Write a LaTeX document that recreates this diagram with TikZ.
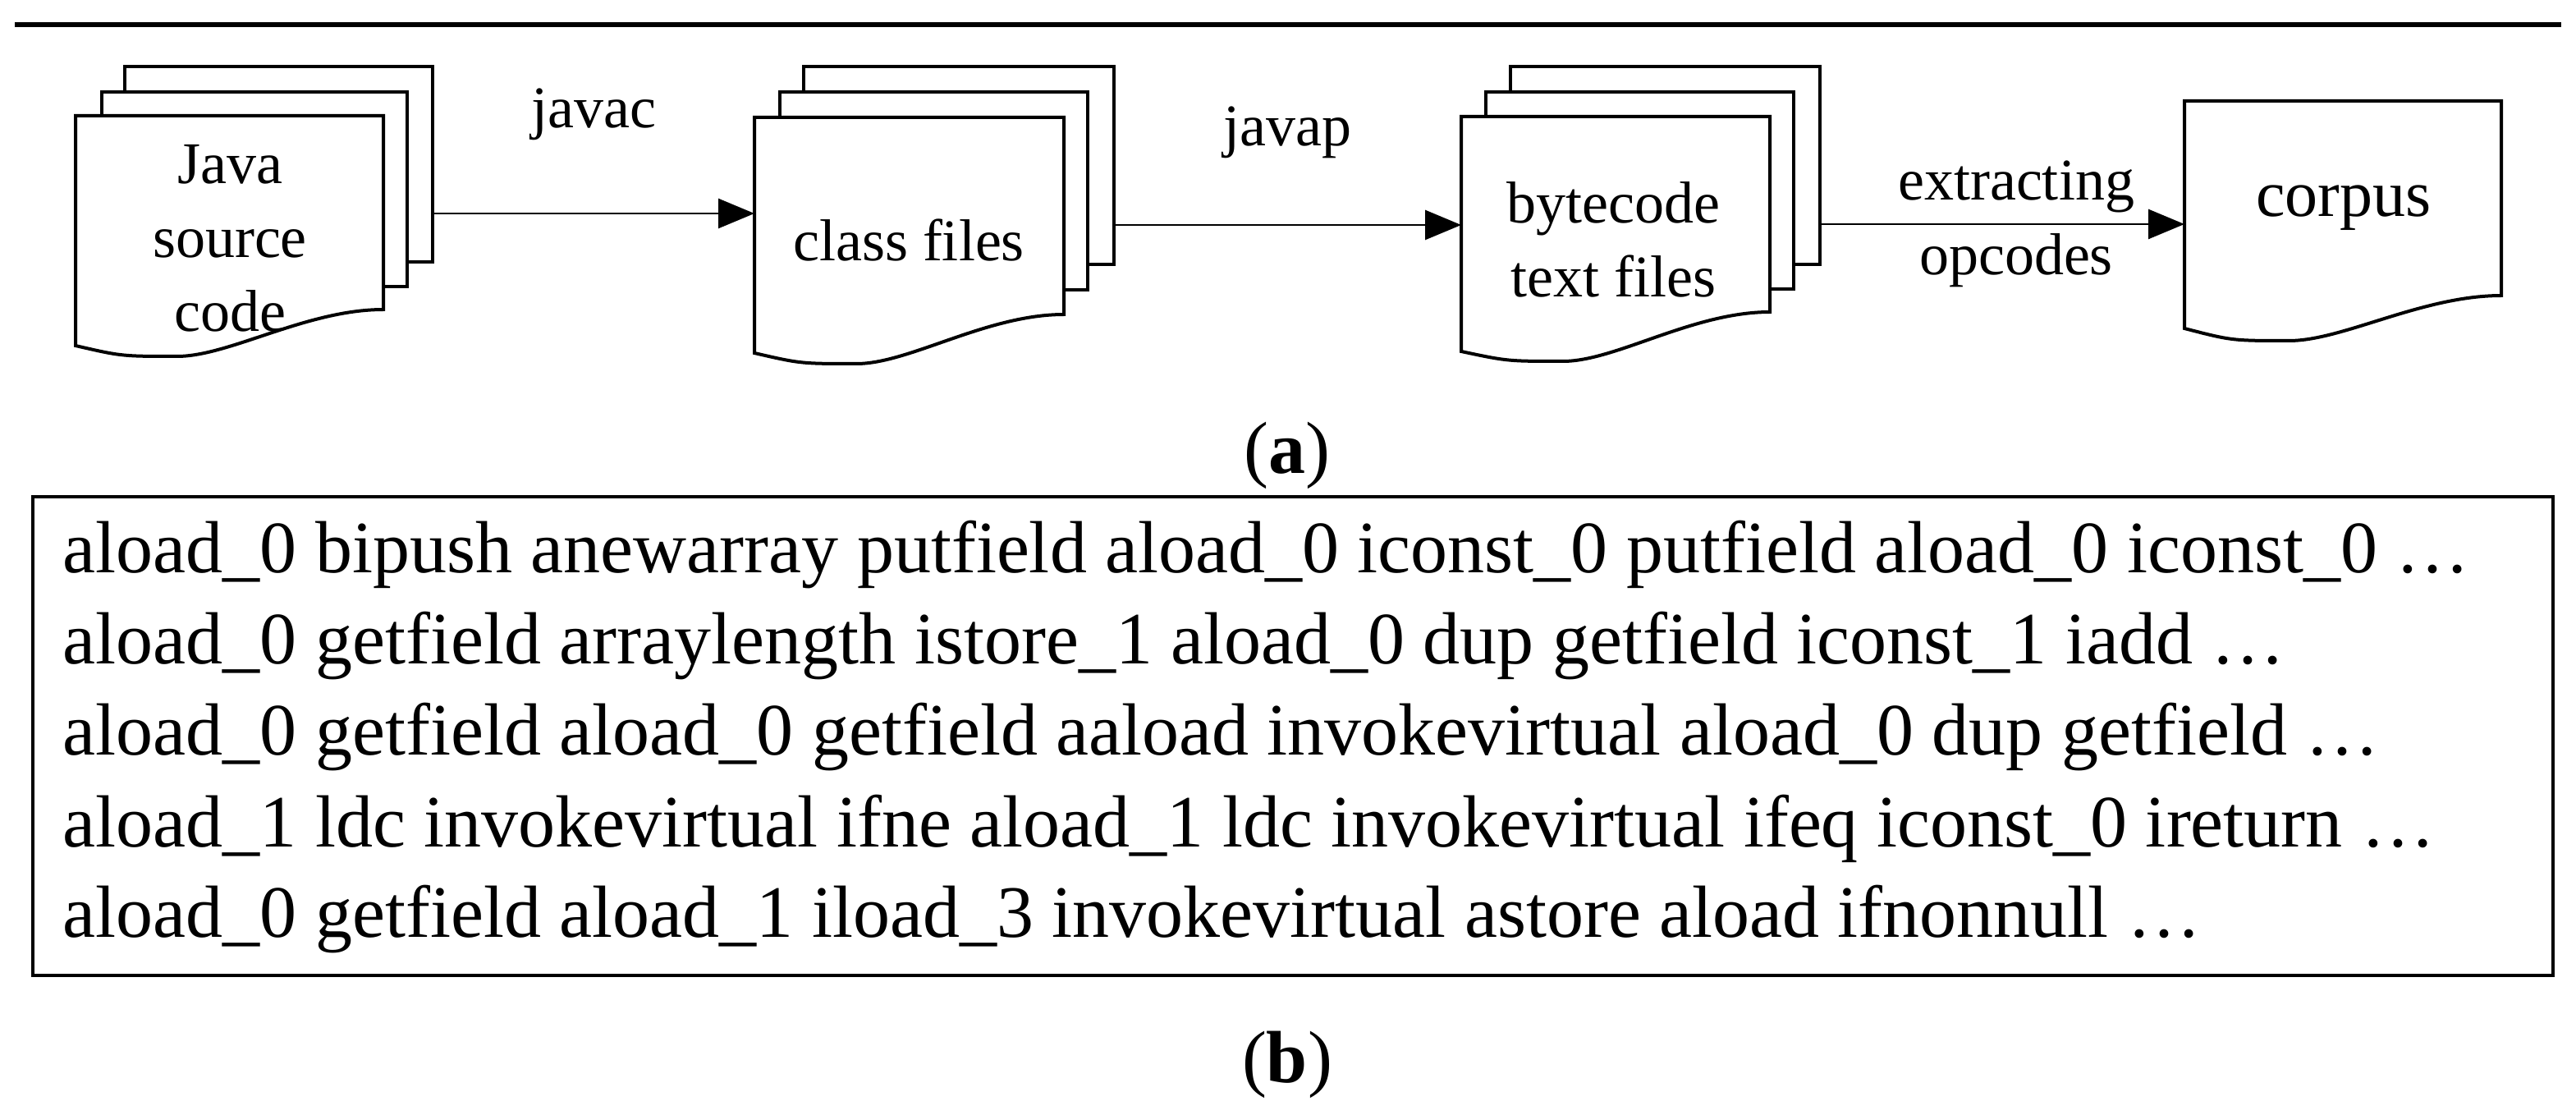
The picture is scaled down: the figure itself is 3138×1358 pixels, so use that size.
\documentclass[tikz,border=0pt]{standalone}
\usepackage{fontspec}
\setmainfont{Liberation Serif}
\usetikzlibrary{arrows.meta}
\newcommand\docpage[6]{% l t r rb lb wb
  \path[draw=black,fill=white,line width=1pt]
  (#1,#2) -- (#3,#2) -- (#3,#4)
  .. controls ({#3-0.25*(#3-#1)},#4) and ({#1+0.5*(#3-#1)},#6) .. ({#1+0.33*(#3-#1)},#6)
  .. controls ({#1+0.15*(#3-#1)},#6) .. (#1,#5) -- cycle;}
\tikzset{
  pagebox/.style={draw=black,fill=white,line width=1pt},
  flow/.style={line width=0.7pt,-{Triangle[length=11pt,width=9pt]}},
  lbl/.style={font=\fontsize{18}{22}\selectfont,inner sep=0pt},
  dtxt/.style={font=\fontsize{18}{22.5}\selectfont,align=center,inner sep=0pt},
  code/.style={font=\fontsize{22.5}{27}\selectfont,anchor=west,inner sep=0pt},
  captxt/.style={font=\fontsize{22.5}{27}\selectfont,inner sep=0pt}
}
\begin{document}
\begin{tikzpicture}[x=0.25pt,y=-0.25pt]
\useasboundingbox (0,0) rectangle (3138,1358);
\draw[line width=1.5pt] (18,30) -- (3120,30);
% Java stack
\draw[pagebox] (152,81) rectangle (527,319);
\draw[pagebox] (124,112) rectangle (496,349);
\docpage{92}{141}{467}{377}{421}{434}
\node[dtxt] (java) at (280,290) {Java\\source\\code};
% class stack
\draw[pagebox] (979,81) rectangle (1357,322);
\draw[pagebox] (950,112) rectangle (1325,353);
\docpage{919}{143}{1296}{383}{430}{443}
\node[dtxt] (class) at (1107,293) {class files};
% bytecode stack
\draw[pagebox] (1840,81) rectangle (2217,322);
\draw[pagebox] (1810,112) rectangle (2185,352);
\docpage{1780}{142}{2156}{380}{428}{440}
\node[dtxt] (byte) at (1965,292) {bytecode\\text files};
% corpus
\docpage{2661}{123}{3047}{360}{400}{415}
\node[dtxt,font=\fontsize{20}{24}\selectfont] (corpus) at (2855,253) {corpus};
% arrows
\coordinate (j1) at (527,260); \coordinate (c1) at (919,260);
\coordinate (j2) at (1357,274); \coordinate (c2) at (1780,274);
\coordinate (j3) at (2217,273); \coordinate (c3) at (2661,273);
\draw[flow] (j1) -- (c1) node[lbl,midway,above=22pt] (javac) {javac};
\draw[flow] (j2) -- (c2) node[lbl,midway,above=20pt] (javap) {javap};
\draw[flow] (j3) -- (c3);
\node[lbl] (ext) at (2456,227) {extracting};
\node[lbl] (opc) at (2456,317) {opcodes};
\node[captxt] (capa) at (1568,555) {(\textbf{a})};
\draw[line width=1pt] (40,605) rectangle (3110,1188);
\node[code] (l1) at (76,676) {aload\_0 bipush anewarray putfield aload\_0 iconst\_0 putfield aload\_0 iconst\_0 …};
\node[code] (l2) at (76,787) {aload\_0 getfield arraylength istore\_1 aload\_0 dup getfield iconst\_1 iadd …};
\node[code] (l3) at (76,898) {aload\_0 getfield aload\_0 getfield aaload invokevirtual aload\_0 dup getfield …};
\node[code] (l4) at (76,1009) {aload\_1 ldc invokevirtual ifne aload\_1 ldc invokevirtual ifeq iconst\_0 ireturn …};
\node[code] (l5) at (76,1120) {aload\_0 getfield aload\_1 iload\_3 invokevirtual astore aload ifnonnull …};
\node[captxt] (capb) at (1568,1297) {(\textbf{b})};
\end{tikzpicture}
\end{document}
